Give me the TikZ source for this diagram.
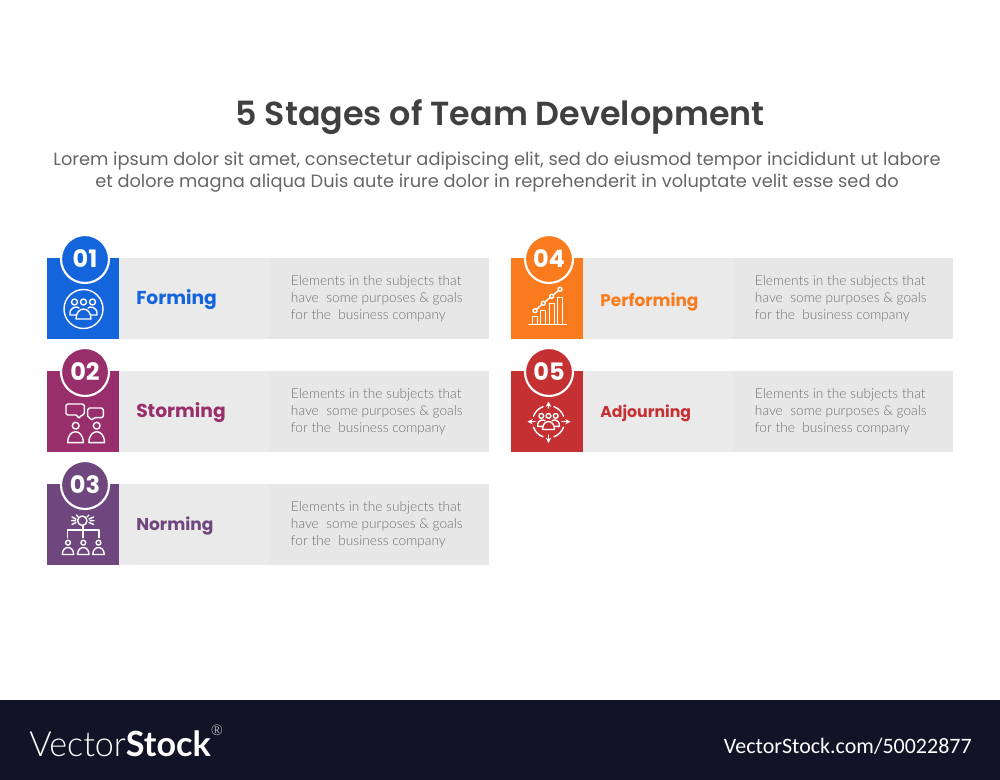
\documentclass[tikz,border=0pt]{standalone}
\usepackage{fontspec}
\usetikzlibrary{arrows.meta}
\setmainfont{Poppins}
\newfontfamily\semib{Poppins SemiBold}
\newfontfamily\descfont{Lato Light}
\newfontfamily\logofont{Lato}
\newfontfamily\logolight{Lato Light}
\newfontfamily\footfont{Carlito}
\definecolor{cone}{HTML}{1464DC}
\definecolor{ctwo}{HTML}{982F6C}
\definecolor{cthree}{HTML}{6F467D}
\definecolor{cfour}{HTML}{F97B1E}
\definecolor{cfive}{HTML}{C53133}
\definecolor{panelA}{HTML}{EAEAEA}
\definecolor{panelB}{HTML}{E7E7E7}
\definecolor{bandc}{HTML}{111426}
\definecolor{titlec}{HTML}{404040}
\definecolor{subc}{HTML}{666666}
\definecolor{descc}{HTML}{707070}
\tikzset{
  x=0.75pt,y=-0.75pt,
  square/.style={draw=none,inner sep=0,outer sep=0,minimum width=72.5*0.75pt,minimum height=81*0.75pt,anchor=north west},
  panel/.style={draw=none,fill=panelA,inner sep=0,outer sep=0,minimum width=150*0.75pt,minimum height=81*0.75pt,anchor=north west},
  panelr/.style={draw=none,fill=panelB,inner sep=0,outer sep=0,minimum width=220*0.75pt,minimum height=81*0.75pt,anchor=north west},
  badge/.style={circle,draw=white,line width=1.6pt,inner sep=0,minimum size=48*0.75pt,text=white,font=\fontsize{18}{18}\selectfont\bfseries},
  stagelabel/.style={anchor=west,inner sep=0},
  desc/.style={anchor=north west,inner sep=0,align=left,text=descc,font=\descfont\fontsize{10.27}{12.75}\selectfont},
  ico/.style={draw=white,line width=1.05pt,line cap=round,line join=round},
  tip/.style={ico,-{Stealth[length=4pt,width=4pt]}},
}
\newcommand{\dome}[4]{(#1-#3,#2) .. controls (#1-#3,#2-#4*1.33) and (#1+#3,#2-#4*1.33) .. (#1+#3,#2) -- cycle}
\newcommand{\trio}[3]{% centre x,y of group, fill
  \draw[ico] (#1-9,#2-7) circle (3) (#1+9,#2-7) circle (3) (#1,#2-7) circle (3);
  \draw[ico] (#1-6,#2+6) -- (#1-13.5,#2+6) .. controls (#1-14.5,#2-2.5) and (#1-6,#2-3) .. (#1-4.5,#2-1);
  \draw[ico] (#1+6,#2+6) -- (#1+13.5,#2+6) .. controls (#1+14.5,#2-2.5) and (#1+6,#2-3) .. (#1+4.5,#2-1);
  \draw[ico,fill=#3] \dome{#1}{#2+10}{7.5}{10};
}
\newcommand{\stage}[9]{% name, x, y, colour, number, label, label x, label y, size
  \node[square,fill=#4] (sq#1) at (#2,#3) {};
  \node[panel] (pa#1) at (#2+72,#3) {};
  \node[panelr] (pb#1) at (#2+222,#3) {};
  \node[badge,fill=#4] (ba#1) at (#2+38,#3+1) {#5};
  \node[stagelabel,text=#4,font=\bfseries\fontsize{#9}{16}\selectfont] (la#1) at (#7,#8) {#6};
  \node[desc] (de#1) at (#2+243.7,#3+17.5) {Elements in the subjects that\\have\ \ some purposes \& goals\\for the\ \ business company};
}
\begin{document}
\begin{tikzpicture}
\useasboundingbox (0,0) rectangle (1000,780);
\fill[white] (0,0) rectangle (1000,780);
\node[inner sep=0,text=titlec,font=\semib\fontsize{25}{28}\selectfont] (title) at (500,117) {5 Stages of Team Development};
\node[inner sep=0,text=subc,align=center,font=\fontsize{13.35}{16.8}\selectfont] (sub) at (497,172) {Lorem ipsum dolor sit amet, consectetur adipiscing elit, sed do eiusmod tempor incididunt ut labore\\et dolore magna aliqua Duis aute irure dolor in reprehenderit in voluptate velit esse sed do};

\stage{a}{47}{258}{cone}{01}{Forming}{136}{299.5}{14}
\stage{b}{47}{371}{ctwo}{02}{Storming}{136}{412.5}{14}
\stage{c}{47}{484}{cthree}{03}{Norming}{136}{526}{12.8}
\stage{d}{511}{258}{cfour}{04}{Performing}{600}{302}{12.7}
\stage{e}{511}{371}{cfive}{05}{Adjourning}{600}{413.5}{11.8}

% icon 1
\draw[ico] (83.5,309) circle (19.5);
\trio{83.5}{309}{cone}

% icon 2
\begin{scope}[rounded corners=1.2pt]
\draw[ico] (66,404) -- (84.3,404) -- (84.3,415) -- (81.5,415) -- (78.3,419) -- (77.5,415) -- (66,415) -- cycle;
\draw[ico] (87.7,408) -- (103.3,408) -- (103.3,417.7) -- (93.5,417.7) -- (91.7,421) -- (90.5,417.7) -- (87.7,417.7) -- cycle;
\end{scope}
\draw[ico] (75.7,425.7) circle (3.4) (96.7,425.7) circle (3.4);
\draw[ico] \dome{75.5}{442.7}{7.8}{11};
\draw[ico] \dome{96.7}{442.7}{7.8}{11};

% icon 3
\draw[ico] (82.3,520.7) circle (4.7);
\draw[ico] (82.8,525.4) -- (82.8,537.7) (67.7,537.7) -- (67.7,530) -- (99,530) -- (99,537.7);
\draw[ico] (72,517) -- (76,519) (71.5,520.7) -- (75.5,520.7) (72,524.5) -- (76,522.5);
\draw[ico] (93.5,517) -- (89,519) (94,520.7) -- (90,520.7) (93.5,524.5) -- (89,522.5);
\draw[ico] (76.5,515) -- (78,517) (89,515) -- (87,517);
\draw[ico] (68,542.7) circle (2.4) (83.3,542.7) circle (2.4) (98.5,542.7) circle (2.4);
\draw[ico] \dome{68}{554.5}{5.7}{7};
\draw[ico] \dome{83.3}{554.5}{5.7}{7};
\draw[ico] \dome{98.5}{554.5}{5.7}{7};

% icon 4
\draw[ico] (529,324.3) -- (566.3,324.3);
\draw[ico] (532.7,324.3) |- (537.3,316.7) -- (537.3,324.3);
\draw[ico] (540.7,324.3) |- (545.7,310.7) -- (545.7,324.3);
\draw[ico] (549.3,324.3) |- (554.3,303.3) -- (554.3,324.3);
\draw[ico] (557.7,324.3) |- (562.7,297.3) -- (562.7,324.3);
\draw[ico] (535,310.7) circle (2) (543.3,303.3) circle (2) (551.7,296.3) circle (2) (560,289.3) circle (2);
\draw[ico] (536.5,309.4) -- (541.8,304.6) (544.9,302) -- (550.1,297.6) (553.2,295) -- (558.5,290.6);

% icon 5
\foreach \a in {20,110,200,290} {\draw[ico] (548.5,421.7) ++(\a:16) arc (\a:\a+50:16);}
\draw[tip] (548.5,408) -- (548.5,401.5);
\draw[tip] (548.5,435) -- (548.5,443);
\draw[tip] (535,421.7) -- (527.5,421.7);
\draw[tip] (562,421.7) -- (570.5,421.7);
\begin{scope}[scale=0.8,shift={(548.5*0.25,421.5*0.25)}]
\trio{548.5}{421.5}{cfive}
\end{scope}

% footer
\fill[bandc] (0,700) rectangle (1000,780);
\node[anchor=west,inner sep=0,text=white,font=\fontsize{26}{30}\selectfont] (logo) at (29,741) {\scalebox{0.985}[1]{{\logolight Vector}{\logofont\bfseries Stock}\raisebox{1.1ex}{\logolight\fontsize{11}{11}\selectfont ®}}};
\node[anchor=east,inner sep=0,text=white,font=\footfont\fontsize{16.5}{20}\selectfont] (url) at (972,746) {VectorStock.com/50022877};
\end{tikzpicture}
\end{document}
